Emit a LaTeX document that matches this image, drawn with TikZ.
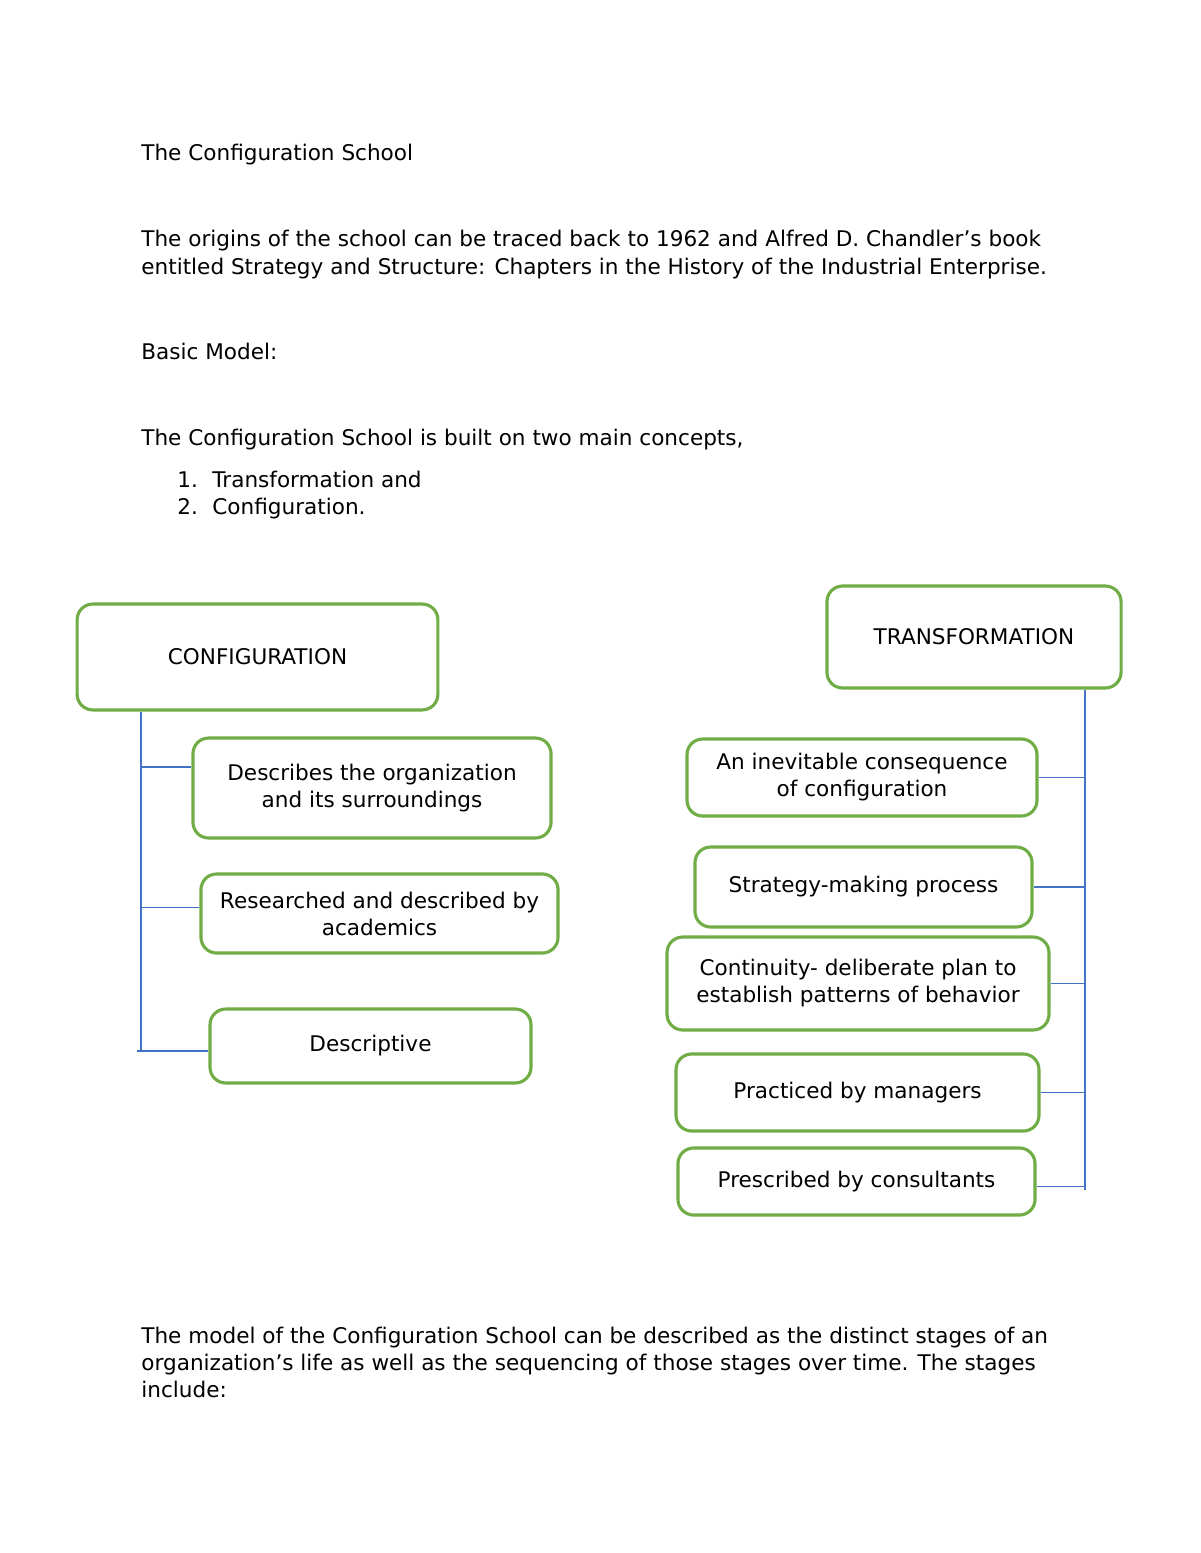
\documentclass[tikz,border=0pt]{standalone}
\usepackage{fontspec}
\setmainfont{DejaVu Sans}
\usetikzlibrary{calc}
\definecolor{boxgreen}{HTML}{70AD47}
\definecolor{linkblue}{HTML}{4472C4}
\tikzstyle{cbox}=[draw=boxgreen, line width=1.6pt, rounded corners=8pt, align=center, inner sep=2pt]
\tikzstyle{link}=[draw=linkblue, line width=0.75pt]
\tikzstyle{txt}=[anchor=base west, inner sep=0pt, align=left]

\begin{document}
\begin{tikzpicture}[x=0.51pt, y=-0.51pt, font=\fontsize{11}{13.77}\selectfont]
\useasboundingbox (0,0) rectangle (1200,1553);
            % page text (multi-line nodes sit on their last baseline)
            \node[txt] (title) at (141, 161) {The Configuration School};
            \node[txt] (origins) at (141, 274) {The origins of the school can be traced back to 1962 and Alfred D. Chandler’s book\\entitled Strategy and Structure: Chapters in the History of the Industrial Enterprise.};
            \node[txt] (basic) at (141, 359) {Basic Model:};
            \node[txt] (concepts) at (141, 445) {The Configuration School is built on two main concepts,};
            \node[txt] (n1) at (177, 487) {1.};
            \node[txt] (i1) at (212, 487) {Transformation and};
            \node[txt] (n2) at (177, 514) {2.};
            \node[txt] (i2) at (212, 514) {Configuration.};
            \node[txt] (model) at (141, 1397) {The model of the Configuration School can be described as the distinct stages of an\\organization’s life as well as the sequencing of those stages over time. The stages\\include:};
            % configuration side
            \node[cbox, minimum width=184pt, minimum height=54pt] (conf) at (257.5, 657) {CONFIGURATION};
            \node[cbox, minimum width=182.6pt, minimum height=51pt] (surr) at (372, 788) {Describes the organization\\and its surroundings};
            \node[cbox, minimum width=182.1pt, minimum height=40.3pt] (acad) at (379.5, 913.5) {Researched and described by\\academics};
            \node[cbox, minimum width=163.7pt, minimum height=37.7pt] (descr) at (370.5, 1046) {Descriptive};
            \coordinate (cspine) at (141, 1051);
            \coordinate (surrin) at ($(surr.west)+(0,-21)$);
            \coordinate (acadin) at ($(acad.west)+(0,-6)$);
            \coordinate (descrin) at ($(descr.west)+(0,5)$);
            \draw[link] (conf.south -| cspine) -- (cspine);
            \foreach \b in {surrin, acadin}
                \draw[link] (\b) -- (\b -| cspine);
            \draw[link] (descrin) -- ([xshift=-2pt]descrin -| cspine);
            % transformation side
            \node[cbox, minimum width=150pt, minimum height=52pt] (trans) at (974, 637) {TRANSFORMATION};
            \node[cbox, minimum width=178.5pt, minimum height=39.3pt] (conseq) at (862, 777.5) {An inevitable consequence\\of configuration};
            \node[cbox, minimum width=171.9pt, minimum height=40.8pt] (making) at (863.5, 887) {Strategy-making process};
            \node[cbox, minimum width=194.8pt, minimum height=47.4pt] (contin) at (858, 983.5) {Continuity- deliberate plan to\\establish patterns of behavior};
            \node[cbox, minimum width=185.1pt, minimum height=39.3pt] (manag) at (857.5, 1092.5) {Practiced by managers};
            \node[cbox, minimum width=182.1pt, minimum height=34.2pt] (consult) at (856.5, 1181.5) {Prescribed by consultants};
            \coordinate (tspine) at (1085, 1190);
            \coordinate (consultin) at ($(consult.east)+(0,5)$);
            \draw[link] (trans.south -| tspine) -- (tspine);
            \foreach \b in {conseq.east, making.east, contin.east, manag.east, consultin}
                \draw[link] (\b) -- (\b -| tspine);
        \end{tikzpicture}
\end{document}
